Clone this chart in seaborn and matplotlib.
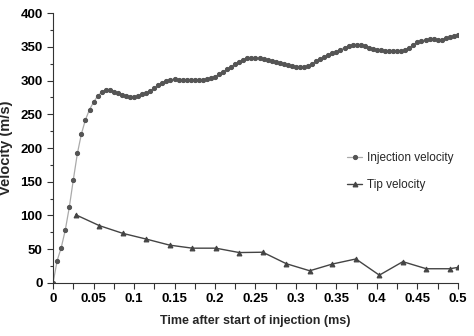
import numpy as np
import pandas as pd
import seaborn as sns
import matplotlib.pyplot as plt
from matplotlib.ticker import MultipleLocator

# injection velocity, sampled every 0.005 ms
inj_time = np.round(np.arange(101) * 0.005, 3)
inj_vel = [0, 33, 52, 78, 112, 153, 192, 221, 242, 257,
           268, 277, 283, 286, 285.5, 283.5, 281, 278.5, 276.5, 275.5,
           276, 277.5, 279.5, 281.5, 284.5, 288.5, 293, 297, 300, 301.5,
           302, 301.5, 301, 301, 301, 301, 301, 301.5, 302, 303.5,
           306, 309, 313, 316.5, 320.5, 324.5, 328, 331, 333.5, 334,
           334, 333, 331.5, 330.5, 329.5, 328, 326, 324.5, 323, 321.5,
           320.5, 320.5, 320.5, 322, 325, 328.5, 331.5, 334.5, 337.5, 340.5,
           343, 346, 349, 351, 352.5, 352.5, 352, 351, 349, 347,
           345.5, 345, 344.5, 344.5, 344, 343.5, 343.5, 346, 349, 353,
           356.5, 359, 360.5, 361, 361, 359.5, 360, 362.5, 364, 365.5,
           367]

# tip velocity
tip_time = [0.028, 0.057, 0.086, 0.115, 0.144, 0.172, 0.201, 0.230, 0.259,
            0.288, 0.317, 0.345, 0.374, 0.403, 0.432, 0.461, 0.490, 0.5]
tip_vel = [101, 85, 73.5, 65, 56, 51.5, 51.5, 45, 45.5,
           28.5, 18, 28, 35.5, 11.5, 31.5, 21, 21, 23]

inj = pd.DataFrame({"t": inj_time, "v": inj_vel})
tip = pd.DataFrame({"t": tip_time, "v": tip_vel})

sns.set_style("ticks")
plt.rcParams["font.family"] = ["Liberation Sans", "DejaVu Sans"]

fig = plt.figure(figsize=(4.74, 3.36), dpi=100)
ax = fig.add_axes([0.112, 0.158, 0.854, 0.803])

sns.lineplot(data=inj, x="t", y="v", ax=ax, color="#aaaaaa", linewidth=0.9,
             marker="o", markersize=3, markerfacecolor="#555555",
             markeredgecolor="#555555", label="Injection velocity")
sns.lineplot(data=tip, x="t", y="v", ax=ax, color="#444444", linewidth=1.0,
             marker="^", markersize=3.5, markerfacecolor="#444444",
             markeredgecolor="#444444", label="Tip velocity")

ax.set_xlim(0, 0.5)
ax.set_ylim(0, 400)
ax.xaxis.set_minor_locator(MultipleLocator(0.025))
ax.yaxis.set_major_locator(MultipleLocator(50))
ax.yaxis.set_minor_locator(MultipleLocator(25))
ax.set_xticks(np.round(np.arange(0, 0.51, 0.05), 2))
ax.set_xticklabels(["0", "0.05", "0.1", "0.15", "0.2", "0.25", "0.3",
                    "0.35", "0.4", "0.45", "0.5"])
ax.tick_params(which="both", direction="out", colors="#333333",
               labelcolor="black", width=0.8)
ax.tick_params(which="major", length=4, labelsize=9.5)
ax.tick_params(axis="x", which="minor", length=4)
ax.tick_params(axis="y", which="minor", length=2)
for lab in ax.get_xticklabels() + ax.get_yticklabels():
    lab.set_fontweight("bold")

ax.set_xlabel("Time after start of injection (ms)", fontsize=9,
              fontweight="bold", labelpad=7)
ax.set_ylabel("Velocity (m/s)", fontsize=10.5, fontweight="bold", labelpad=5)

sns.despine(ax=ax)
for s in ["left", "bottom"]:
    ax.spines[s].set_color("#333333")
    ax.spines[s].set_linewidth(0.8)

ax.legend(frameon=False, fontsize=8.5, loc="center left",
          bbox_to_anchor=(0.70, 0.413), handlelength=1.3, handletextpad=0.35,
          labelspacing=1.3)

fig.savefig("out.png", dpi=100)
